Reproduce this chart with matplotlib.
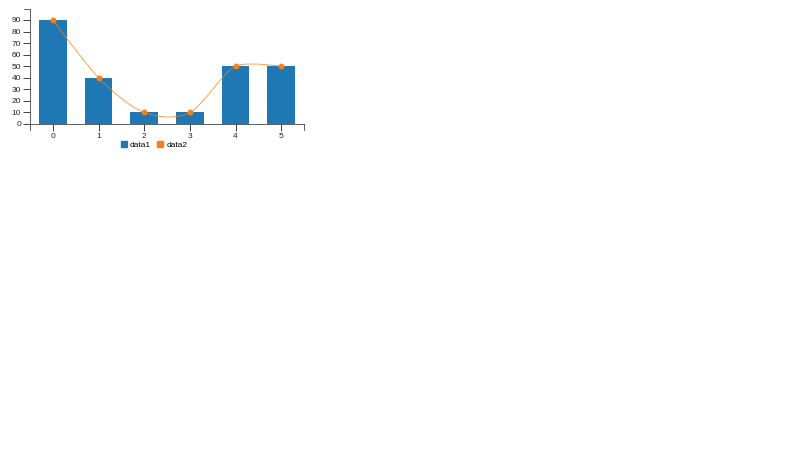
import matplotlib

matplotlib.use("Agg")
import matplotlib.pyplot as plt
import numpy as np
from matplotlib.lines import Line2D
from matplotlib.patches import PathPatch
from matplotlib.path import Path

categories = [0, 1, 2, 3, 4, 5]
data1 = [90, 40, 10, 10, 50, 50]
data2 = [90, 40, 10, 10, 50, 50]
y_ticks = [0, 10, 20, 30, 40, 50, 60, 70, 80, 90]

BLUE = "#1f77b4"
ORANGE = "#ff7f0e"
W, H = 800, 450


def cardinal_path(xs, ys, tension=0.7):
    # same construction as d3 v3 "cardinal" interpolation
    pts = np.column_stack([xs, ys]).astype(float)
    a = (1 - tension) / 2
    tangents = [a * (pts[i + 1] - pts[i - 1]) for i in range(1, len(pts) - 1)]
    verts = [pts[0], pts[1] - tangents[0] * 2 / 3, pts[1]]
    codes = [Path.MOVETO, Path.CURVE3, Path.CURVE3]
    for i in range(1, len(tangents)):
        p0, p = pts[i], pts[i + 1]
        verts += [p0 + tangents[i - 1], p - tangents[i], p]
        codes += [Path.CURVE4] * 3
    verts += [pts[-2] + tangents[-1] * 2 / 3, pts[-1]]
    codes += [Path.CURVE3, Path.CURVE3]
    return Path(verts, codes)


plt.rcParams["font.family"] = ["Liberation Sans", "DejaVu Sans"]
fig = plt.figure(figsize=(W / 100, H / 100), dpi=100)
ax = fig.add_axes([30 / W, 1 - 124 / H, 274 / W, 115 / H])

ax.bar(categories, data1, width=0.6, color=BLUE, zorder=2)
ax.add_patch(PathPatch(cardinal_path(categories, data2), fill=False,
                       edgecolor=ORANGE, linewidth=0.6, alpha=0.85, zorder=3))
ax.plot(categories, data2, linestyle="none", marker="o", markersize=3.2,
        color=ORANGE, zorder=4)

ax.set_xlim(-0.5, 5.5)
ax.set_ylim(0, 99.5)
ax.set_xticks(categories)
ax.set_yticks(y_ticks)
ax.tick_params(labelsize=6, length=5, width=0.6, pad=1.5, colors="#222222")
for side in ["top", "right"]:
    ax.spines[side].set_visible(False)
for side in ["left", "bottom"]:
    ax.spines[side].set_linewidth(0.6)
    ax.spines[side].set_color("#444444")

# outer end ticks of the c3-style axes
ax.plot([-0.5, -0.5], [0, -5.5], color="#444444", lw=0.6, clip_on=False)
ax.plot([5.5, 5.5], [0, -5.5], color="#444444", lw=0.6, clip_on=False)
ax.plot([-0.5 - 0.13, -0.5], [99.5, 99.5], color="#444444", lw=0.6, clip_on=False)

handles = [
    Line2D([], [], marker="s", linestyle="none", markersize=5, color=BLUE, label="data1"),
    Line2D([], [], marker="s", linestyle="none", markersize=5, color=ORANGE, label="data2"),
]
fig.legend(handles=handles, loc="center", bbox_to_anchor=(154 / W, 1 - 145.5 / H),
           ncol=2, frameon=False, fontsize=6, handlelength=0.8,
           handletextpad=0.3, columnspacing=0.7, borderpad=0)

fig.savefig("out.png", dpi=100)
